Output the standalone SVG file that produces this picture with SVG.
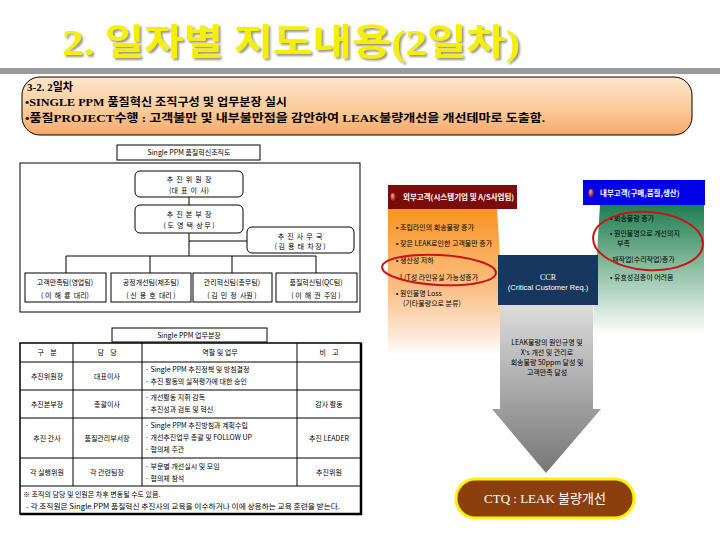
<svg xmlns="http://www.w3.org/2000/svg" width="720" height="540" viewBox="0 0 720 540">
<style>
.k{font-family:"Noto Sans CJK KR","Liberation Sans",sans-serif;font-size:7px;fill:#000}
.kc{font-family:"Noto Sans CJK KR","Liberation Sans",sans-serif;font-size:7px;fill:#000;text-anchor:middle}
.s{font-family:"Liberation Serif","Noto Sans CJK KR",serif;font-weight:bold;font-size:11px;fill:#000}
.w{font-family:"Noto Sans CJK KR","Liberation Sans",sans-serif;font-size:7.5px;fill:#fff;font-weight:bold}
.box{fill:#fff;stroke:#000;stroke-width:1}
.ln{stroke:#000;stroke-width:1;fill:none}
.ell{fill:none;stroke:#cc1414;stroke-width:2}
</style>
<defs>
<filter id="shadow" x="-5%" y="-20%" width="110%" height="140%">
<feDropShadow dx="2" dy="2" stdDeviation="0.8" flood-color="#8c8c70" flood-opacity="0.9"/>
</filter>
<linearGradient id="hdr" x1="0" y1="0" x2="0" y2="1">
<stop offset="0" stop-color="#fde6cc"/><stop offset="0.6" stop-color="#fbc996"/><stop offset="1" stop-color="#f5a868"/>
</linearGradient>
<linearGradient id="org" x1="0" y1="0" x2="0" y2="1">
<stop offset="0" stop-color="#f79420"/><stop offset="0.55" stop-color="#fbc088"/><stop offset="0.85" stop-color="#fde6d2"/><stop offset="1" stop-color="#fff"/>
</linearGradient>
<linearGradient id="grn" x1="0" y1="0" x2="0" y2="1">
<stop offset="0" stop-color="#1f7d52"/><stop offset="0.5" stop-color="#8fc0a4"/><stop offset="1" stop-color="#fff"/>
</linearGradient>
<linearGradient id="arr" x1="0" y1="0" x2="0" y2="1">
<stop offset="0" stop-color="#dcdcdc"/><stop offset="1" stop-color="#767676"/>
</linearGradient>
<radialGradient id="dot" cx="0.4" cy="0.35" r="0.6">
<stop offset="0" stop-color="#f3a0a0"/><stop offset="1" stop-color="#a02020"/>
</radialGradient>
</defs>
<rect width="720" height="540" fill="#fff"/>

<!-- title -->
<g id="title">
<text x="62" y="55" font-family="'Liberation Serif','Noto Sans CJK KR',serif" font-weight="bold" font-size="36" fill="#f6f000" filter="url(#shadow)" textLength="458" lengthAdjust="spacingAndGlyphs">2. 일자별 지도내용(2일차)</text>
</g>
<rect x="0" y="68" width="720" height="6" fill="#9a9a9a"/>

<!-- header -->
<g id="header">
<rect x="22" y="77" width="670" height="58" rx="18" ry="18" fill="url(#hdr)" stroke="#000" stroke-width="1"/>
<text class="s" x="27" y="91">3-2.  2일차</text>
<text class="s" x="25" y="106" textLength="262" lengthAdjust="spacingAndGlyphs">•SINGLE PPM 품질혁신 조직구성 및 업무분장 실시</text>
<text class="s" x="25" y="122" textLength="520" lengthAdjust="spacingAndGlyphs">•품질PROJECT수행 : 고객불만 및 내부불만점을 감안하여 LEAK불량개선을 개선테마로 도출함.</text>
</g>

<!-- org chart -->
<g id="org-title"><rect class="box" x="117" y="145" width="143" height="15"/><text class="kc" x="189" y="155">Single PPM 품질혁신조직도</text></g>
<rect class="box" x="20" y="163" width="340" height="149" fill="none"/>
<g id="connectors">
<line class="ln" x1="189" y1="197" x2="189" y2="205"/>
<line class="ln" x1="189" y1="233" x2="189" y2="256"/>
<line class="ln" x1="189" y1="241" x2="247" y2="241"/>
<line class="ln" x1="66" y1="256" x2="316" y2="256"/>
<line class="ln" x1="66" y1="256" x2="66" y2="273"/>
<line class="ln" x1="150" y1="256" x2="150" y2="273"/>
<line class="ln" x1="232" y1="256" x2="232" y2="273"/>
<line class="ln" x1="316" y1="256" x2="316" y2="273"/>
</g>
<g id="chair"><rect class="box" x="135" y="171" width="108" height="26" rx="5"/><text class="kc" x="189" y="182" xml:space="preserve">추  진  위  원  장</text><text class="kc" x="189" y="193" xml:space="preserve">(대  표  이  사)</text></g>
<g id="hq"><rect class="box" x="135" y="205" width="108" height="28" rx="5"/><text class="kc" x="189" y="217" xml:space="preserve">추  진  본  부  장</text><text class="kc" x="189" y="228" xml:space="preserve">( 도  영  택  상 무 )</text></g>
<g id="office"><rect class="box" x="247" y="227" width="107" height="26" rx="5"/><text class="kc" x="300" y="239" xml:space="preserve">추  진  사  무  국</text><text class="kc" x="300" y="249" xml:space="preserve">( 김  용  태  차 장 )</text></g>
<g id="team1"><rect class="box" x="25" y="273" width="81" height="29"/><text class="kc" x="65" y="285">고객만족팀(영업팀)</text><text class="kc" x="65" y="298" xml:space="preserve">( 이  해  룡  대리)</text></g>
<g id="team2"><rect class="box" x="111" y="273" width="80" height="29"/><text class="kc" x="151" y="285">공정개선팀(제조팀)</text><text class="kc" x="151" y="298" xml:space="preserve">( 신  용  호  대리 )</text></g>
<g id="team3"><rect class="box" x="193" y="273" width="79" height="29"/><text class="kc" x="232" y="285">관리혁신팀(총무팀)</text><text class="kc" x="232" y="298" xml:space="preserve">( 김  민  정  사원 )</text></g>
<g id="team4"><rect class="box" x="276" y="273" width="81" height="29"/><text class="kc" x="316" y="285">품질혁신팀(QC팀)</text><text class="kc" x="316" y="298" xml:space="preserve">( 이  해  권  주임 )</text></g>

<!-- table -->
<g id="table-title"><rect class="box" x="112" y="328" width="155" height="14"/><text class="kc" x="189" y="338">Single PPM 업무분장</text></g>
<g id="table">
<rect x="20" y="343" width="341" height="171" fill="#fff" stroke="#000" stroke-width="1.5"/>
<line x1="20" y1="514" x2="362" y2="514" stroke="#000" stroke-width="2.5"/>
<line x1="361" y1="343" x2="361" y2="515" stroke="#000" stroke-width="2.5"/>
<line class="ln" x1="20" y1="362" x2="361" y2="362"/>
<line class="ln" x1="20" y1="390" x2="361" y2="390"/>
<line class="ln" x1="20" y1="418" x2="361" y2="418"/>
<line class="ln" x1="20" y1="458" x2="361" y2="458"/>
<line class="ln" x1="20" y1="486" x2="361" y2="486"/>
<line class="ln" x1="73" y1="343" x2="73" y2="486"/>
<line class="ln" x1="142" y1="343" x2="142" y2="486"/>
<line class="ln" x1="297" y1="343" x2="297" y2="486"/>
<text class="kc" x="47" y="355" xml:space="preserve">구    분</text>
<text class="kc" x="107" y="355" xml:space="preserve">담    당</text>
<text class="kc" x="220" y="355">역할 및 업무</text>
<text class="kc" x="329" y="355" xml:space="preserve">비    고</text>
<text class="kc" x="47" y="379">추진위원장</text>
<text class="kc" x="107" y="379">대표이사</text>
<text class="k" x="145" y="372">· Single PPM 추진정책 및 방침결정</text>
<text class="k" x="145" y="384">· 추진 활동의 실적평가에 대한 승인</text>
<text class="kc" x="47" y="407">추진본부장</text>
<text class="kc" x="107" y="407">총괄이사</text>
<text class="k" x="145" y="400">· 개선활동 지휘 감독</text>
<text class="k" x="145" y="412">· 추진성과 검토 및 혁신</text>
<text class="kc" x="329" y="407">감사 활동</text>
<text class="kc" x="47" y="441">추진 간사</text>
<text class="kc" x="107" y="441">품질관리부서장</text>
<text class="k" x="145" y="428">· Single PPM 추진방침과 계획수립</text>
<text class="k" x="145" y="440">· 개선추진업무 총괄 및 FOLLOW UP</text>
<text class="k" x="145" y="452">· 협의체 주관</text>
<text class="kc" x="329" y="441">추진 LEADER</text>
<text class="kc" x="47" y="475">각 실행위원</text>
<text class="kc" x="107" y="475">각 관련팀장</text>
<text class="k" x="145" y="469">· 부문별 개선실시 및 모임</text>
<text class="k" x="145" y="481">· 협의체 참석</text>
<text class="kc" x="329" y="475">추진위원</text>
<text class="k" x="23" y="497">※ 조직의 담당 및 인원은 차후 변동될 수도 있음.</text>
<text class="k" x="26" y="509" textLength="314" lengthAdjust="spacingAndGlyphs">- 각 조직원은 Single PPM 품질혁신 추진사의 교육을 이수하거나 이에 상응하는 교육 훈련을 받는다.</text>
</g>

<!-- right side -->
<g id="external">
<polygon points="388,209 497,209 506,355 388,355" fill="url(#org)"/>
<rect x="388" y="185" width="129" height="24" fill="#7a0c0c"/>
<ellipse cx="393" cy="197" rx="2.5" ry="4" fill="url(#dot)"/>
<text class="w" x="403" y="200">외부고객(시스템기업 및 A/S사업팀)</text>
<text class="k" x="396" y="230">•  조립라인의  회송불량  증가</text>
<text class="k" x="396" y="246">•  잦은  LEAK로인한  고객불만  증가</text>
<text class="k" x="396" y="263">•  생산성  저하</text>
<text class="k" x="396" y="280">•  L/T성  라인유실  가능성증가</text>
<text class="k" x="396" y="296">•  원인불명  Loss</text>
<text class="k" x="403" y="306">(기타불량으로  분류)</text>
<ellipse class="ell" cx="439" cy="270" rx="57" ry="15" transform="rotate(3 439 270)"/>
</g>

<g id="internal">
<polygon points="600,205 704,205 704,335 592,335" fill="url(#grn)"/>
<rect x="583" y="180" width="122" height="25" fill="#0000e6"/>
<ellipse cx="591" cy="193" rx="2.5" ry="4" fill="url(#dot)"/>
<text class="w" x="600" y="196">내부고객(구매,품질,생산)</text>
<text class="k" x="610" y="221">•  회송불량  증가</text>
<text class="k" x="610" y="236">•  원인불명으로  개선의지</text>
<text class="k" x="617" y="246">부족</text>
<text class="k" x="612" y="262">재작업(수리작업)증가</text>
<text class="k" x="610" y="280">•   유효성검증이  어려움</text>
<ellipse class="ell" cx="648" cy="241" rx="55" ry="29" transform="rotate(4 648 241)"/>
</g>

<g id="ccr">
<polygon points="500,305 593,305 593,409 601,409 546,473 492,409 500,409" fill="url(#arr)"/>
<rect x="498" y="255" width="100" height="50" fill="#17375f"/>
<text x="548" y="280" text-anchor="middle" font-family="'Liberation Serif',serif" font-size="8" fill="#fff">CCR</text>
<text x="548" y="290" text-anchor="middle" font-family="'Liberation Sans',sans-serif" font-size="7.5" fill="#fff">(Critical Customer Req.)</text>
<text class="kc" x="547" y="345" font-size="7.5">LEAK불량의 원인규명 및</text>
<text class="kc" x="547" y="355" font-size="7.5">X's 개선 및 관리로</text>
<text class="kc" x="547" y="365" font-size="7.5">회송불량 50ppm 달성 및</text>
<text class="kc" x="547" y="375" font-size="7.5">고객만족 달성</text>
</g>

<g id="ctq">
<rect x="456" y="479" width="178" height="39" rx="19.5" fill="#8a3f0c" stroke="#fff200" stroke-width="3"/>
<text x="545" y="503" text-anchor="middle" font-family="'Liberation Serif','Noto Sans CJK KR',serif" font-size="13" fill="#fff">CTQ : LEAK 불량개선</text>
</g>
</svg>
